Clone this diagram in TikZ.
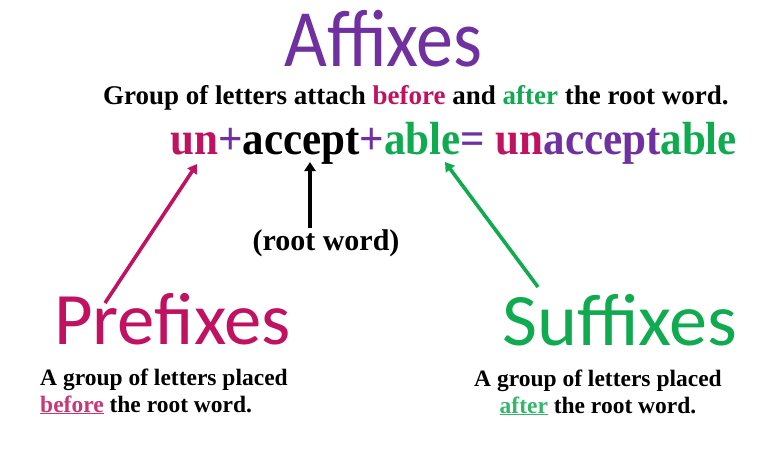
\documentclass[tikz,border=0pt]{standalone}
\usepackage{fontspec}
\setmainfont{Liberation Serif}
\newfontfamily\calib{Carlito}
\usetikzlibrary{arrows.meta}
\definecolor{pinkc}{RGB}{192,18,96}
\definecolor{purplec}{RGB}{112,48,160}
\definecolor{greenc}{RGB}{16,170,80}
\begin{document}
\begin{tikzpicture}[x=1pt,y=-1pt,
  title/.style={inner sep=0pt,font=\calib\fontsize{74}{80}\selectfont},
  body/.style={inner sep=0pt,font=\bfseries},
  desc/.style={inner sep=0pt,font=\bfseries\fontsize{23.5}{27}\selectfont},
  pointer/.style={line width=3.6pt,-{Triangle[width=11pt,length=9pt]}}]
\useasboundingbox[fill=white] (0,0) rectangle (766,459);
\node[title,anchor=base west,text=purplec,yscale=1.1] (affixes) at (284,66) {Affixes};
\node[body,anchor=base west,font=\bfseries\fontsize{27}{30}\selectfont] (sub) at (103,104)
  {Group of letters attach \textcolor{pinkc}{before} and \textcolor{greenc}{after} the root word.};
\node[body,anchor=base west,font=\bfseries\fontsize{43}{48}\selectfont,yscale=1.08] (eq) at (170,154)
  {\textcolor{pinkc}{un}\textcolor{purplec}{+}accept\textcolor{purplec}{+}\textcolor{greenc}{able}\textcolor{purplec}{=} \textcolor{pinkc}{un}\textcolor{purplec}{accept}\textcolor{greenc}{able}};
\node[body,anchor=base,font=\bfseries\fontsize{30}{34}\selectfont] (root) at (326,250) {(root word)};
\node[title,anchor=base west,text=pinkc,xscale=1.01] (prefixes) at (54,344) {Prefixes};
\node[title,anchor=base west,text=greenc,xscale=1.03] (suffixes) at (502,345) {Suffixes};
\node[desc,anchor=base west] (pdesca) at (40,385) {A group of letters placed};
\node[desc,anchor=base west] (pdescb) at (40,412) {\textcolor{pinkc!85}{\underline{before}} the root word.};
\node[desc,anchor=base] (sdesca) at (598,386) {A group of letters placed};
\node[desc,anchor=base] (sdescb) at (598,413) {\textcolor{greenc!85}{\underline{after}} the root word.};
\coordinate (pfrom) at (105,303);
\coordinate (pto) at (197,164);
\coordinate (rfrom) at (310,228);
\coordinate (rto) at (310,162);
\coordinate (sfrom) at (538,287);
\coordinate (sto) at (445,162);
\draw[pointer,pinkc] (pfrom) -- (pto);
\draw[pointer,black,line width=4.5pt] (rfrom) -- (rto);
\draw[pointer,greenc] (sfrom) -- (sto);
\end{tikzpicture}
\end{document}
